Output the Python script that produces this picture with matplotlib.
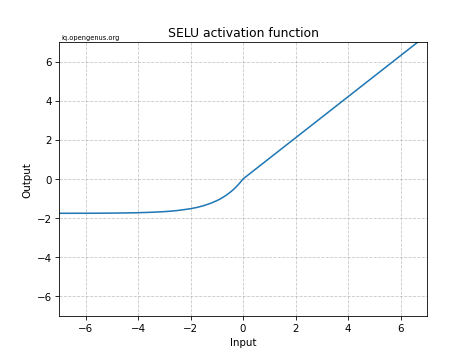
import matplotlib
matplotlib.use("Agg")
import matplotlib.pyplot as plt

# Points
x_vals = [-7.0, -6.5, -6.0, -5.5, -5.0, -4.5, -4.0, -3.5, -3.0, -2.75, -2.5, -2.25,
          -2.0, -1.75, -1.5, -1.25, -1.0, -0.875, -0.75, -0.625, -0.5, -0.375, -0.25,
          -0.125, 0.0, 7.0]
y_vals = [-1.756, -1.755, -1.754, -1.751, -1.746, -1.738, -1.726, -1.705, -1.671,
          -1.647, -1.614, -1.570, -1.520, -1.455, -1.366, -1.254, -1.111, -1.027,
          -0.928, -0.816, -0.692, -0.553, -0.389, -0.207, 0.0, 7.355]
x_limits = [-7, 7]
y_limits = [-7, 7]
x_ticks = [-6, -4, -2, 0, 2, 4, 6]
y_ticks = [-6, -4, -2, 0, 2, 4, 6]

fig = plt.figure(figsize=(6.4, 4.8), dpi=74.1)
ax = fig.add_subplot(111)
ax.plot(x_vals, y_vals, color="#1f77b4", linewidth=1.5)
ax.set_xlim(x_limits)
ax.set_ylim(y_limits)
ax.set_xticks(x_ticks)
ax.set_yticks(y_ticks)
ax.grid(True, linestyle="--", color="#b0b0b0", alpha=0.7)
ax.set_title("SELU activation function")
ax.set_xlabel("Input")
ax.set_ylabel("Output")
ax.text(0.005, 1.005, "iq.opengenus.org", transform=ax.transAxes, fontsize=6.5,
        ha="left", va="bottom")
fig.savefig("out.png", dpi=74.1)
